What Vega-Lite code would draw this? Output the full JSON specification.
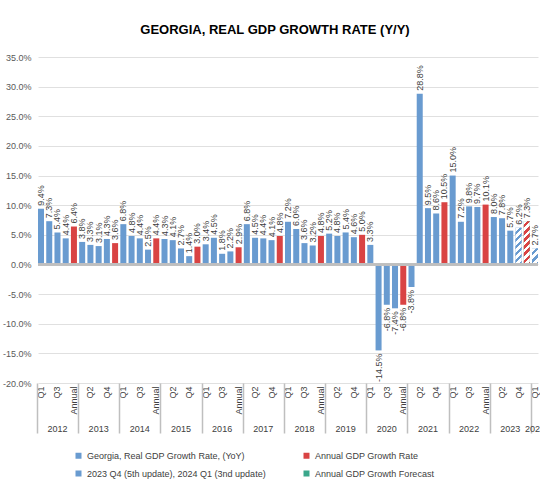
{
  "$schema": "https://vega.github.io/schema/vega-lite/v6.json",
  "width": 500,
  "height": 326,
  "autosize": "none",
  "padding": {"left": 38, "top": 57, "right": 2, "bottom": 102},
  "title": {"text": "GEORGIA, REAL GDP GROWTH RATE (Y/Y)", "fontSize": 13, "fontWeight": "bold", "font": "Liberation Sans", "color": "#000000", "anchor": "middle", "dx": -13, "offset": 16},
  "config": {
    "view": {"stroke": null},
    "font": "Liberation Sans",
    "locale": {"number": {"decimal": ".", "thousands": ",", "grouping": [3], "currency": ["$", ""], "minus": "-"}},
    "axisY": {"title": null, "domain": false, "ticks": false, "tickCount": 11, "labelOverlap": false, "labelFontSize": 9, "labelColor": "#595959", "labelPadding": 7, "grid": true, "gridColor": "#e0e0e0", "gridWidth": 1}
  },
  "data": {"values": [
    {"key": "2012 Q1", "growth": 0.094, "series": "Georgia, Real GDP Growth Rate, (YoY)"},
    {"key": "2012 Q2", "growth": 0.073, "series": "Georgia, Real GDP Growth Rate, (YoY)"},
    {"key": "2012 Q3", "growth": 0.054, "series": "Georgia, Real GDP Growth Rate, (YoY)"},
    {"key": "2012 Q4", "growth": 0.044, "series": "Georgia, Real GDP Growth Rate, (YoY)"},
    {"key": "2012 Annual", "growth": 0.064, "series": "Annual GDP Growth Rate"},
    {"key": "2013 Q1", "growth": 0.038, "series": "Georgia, Real GDP Growth Rate, (YoY)"},
    {"key": "2013 Q2", "growth": 0.033, "series": "Georgia, Real GDP Growth Rate, (YoY)"},
    {"key": "2013 Q3", "growth": 0.031, "series": "Georgia, Real GDP Growth Rate, (YoY)"},
    {"key": "2013 Q4", "growth": 0.043, "series": "Georgia, Real GDP Growth Rate, (YoY)"},
    {"key": "2013 Annual", "growth": 0.036, "series": "Annual GDP Growth Rate"},
    {"key": "2014 Q1", "growth": 0.068, "series": "Georgia, Real GDP Growth Rate, (YoY)"},
    {"key": "2014 Q2", "growth": 0.048, "series": "Georgia, Real GDP Growth Rate, (YoY)"},
    {"key": "2014 Q3", "growth": 0.044, "series": "Georgia, Real GDP Growth Rate, (YoY)"},
    {"key": "2014 Q4", "growth": 0.025, "series": "Georgia, Real GDP Growth Rate, (YoY)"},
    {"key": "2014 Annual", "growth": 0.044, "series": "Annual GDP Growth Rate"},
    {"key": "2015 Q1", "growth": 0.043, "series": "Georgia, Real GDP Growth Rate, (YoY)"},
    {"key": "2015 Q2", "growth": 0.041, "series": "Georgia, Real GDP Growth Rate, (YoY)"},
    {"key": "2015 Q3", "growth": 0.027, "series": "Georgia, Real GDP Growth Rate, (YoY)"},
    {"key": "2015 Q4", "growth": 0.014, "series": "Georgia, Real GDP Growth Rate, (YoY)"},
    {"key": "2015 Annual", "growth": 0.030, "series": "Annual GDP Growth Rate"},
    {"key": "2016 Q1", "growth": 0.034, "series": "Georgia, Real GDP Growth Rate, (YoY)"},
    {"key": "2016 Q2", "growth": 0.045, "series": "Georgia, Real GDP Growth Rate, (YoY)"},
    {"key": "2016 Q3", "growth": 0.018, "series": "Georgia, Real GDP Growth Rate, (YoY)"},
    {"key": "2016 Q4", "growth": 0.022, "series": "Georgia, Real GDP Growth Rate, (YoY)"},
    {"key": "2016 Annual", "growth": 0.029, "series": "Annual GDP Growth Rate"},
    {"key": "2017 Q1", "growth": 0.068, "series": "Georgia, Real GDP Growth Rate, (YoY)"},
    {"key": "2017 Q2", "growth": 0.045, "series": "Georgia, Real GDP Growth Rate, (YoY)"},
    {"key": "2017 Q3", "growth": 0.044, "series": "Georgia, Real GDP Growth Rate, (YoY)"},
    {"key": "2017 Q4", "growth": 0.041, "series": "Georgia, Real GDP Growth Rate, (YoY)"},
    {"key": "2017 Annual", "growth": 0.048, "series": "Annual GDP Growth Rate"},
    {"key": "2018 Q1", "growth": 0.072, "series": "Georgia, Real GDP Growth Rate, (YoY)"},
    {"key": "2018 Q2", "growth": 0.060, "series": "Georgia, Real GDP Growth Rate, (YoY)"},
    {"key": "2018 Q3", "growth": 0.036, "series": "Georgia, Real GDP Growth Rate, (YoY)"},
    {"key": "2018 Q4", "growth": 0.032, "series": "Georgia, Real GDP Growth Rate, (YoY)"},
    {"key": "2018 Annual", "growth": 0.048, "series": "Annual GDP Growth Rate"},
    {"key": "2019 Q1", "growth": 0.052, "series": "Georgia, Real GDP Growth Rate, (YoY)"},
    {"key": "2019 Q2", "growth": 0.048, "series": "Georgia, Real GDP Growth Rate, (YoY)"},
    {"key": "2019 Q3", "growth": 0.054, "series": "Georgia, Real GDP Growth Rate, (YoY)"},
    {"key": "2019 Q4", "growth": 0.046, "series": "Georgia, Real GDP Growth Rate, (YoY)"},
    {"key": "2019 Annual", "growth": 0.050, "series": "Annual GDP Growth Rate"},
    {"key": "2020 Q1", "growth": 0.033, "series": "Georgia, Real GDP Growth Rate, (YoY)"},
    {"key": "2020 Q2", "growth": -0.145, "series": "Georgia, Real GDP Growth Rate, (YoY)"},
    {"key": "2020 Q3", "growth": -0.068, "series": "Georgia, Real GDP Growth Rate, (YoY)"},
    {"key": "2020 Q4", "growth": -0.074, "series": "Georgia, Real GDP Growth Rate, (YoY)"},
    {"key": "2020 Annual", "growth": -0.068, "series": "Annual GDP Growth Rate"},
    {"key": "2021 Q1", "growth": -0.038, "series": "Georgia, Real GDP Growth Rate, (YoY)"},
    {"key": "2021 Q2", "growth": 0.288, "series": "Georgia, Real GDP Growth Rate, (YoY)"},
    {"key": "2021 Q3", "growth": 0.095, "series": "Georgia, Real GDP Growth Rate, (YoY)"},
    {"key": "2021 Q4", "growth": 0.086, "series": "Georgia, Real GDP Growth Rate, (YoY)"},
    {"key": "2021 Annual", "growth": 0.105, "series": "Annual GDP Growth Rate"},
    {"key": "2022 Q1", "growth": 0.150, "series": "Georgia, Real GDP Growth Rate, (YoY)"},
    {"key": "2022 Q2", "growth": 0.072, "series": "Georgia, Real GDP Growth Rate, (YoY)"},
    {"key": "2022 Q3", "growth": 0.098, "series": "Georgia, Real GDP Growth Rate, (YoY)"},
    {"key": "2022 Q4", "growth": 0.097, "series": "Georgia, Real GDP Growth Rate, (YoY)"},
    {"key": "2022 Annual", "growth": 0.101, "series": "Annual GDP Growth Rate"},
    {"key": "2023 Q1", "growth": 0.080, "series": "Georgia, Real GDP Growth Rate, (YoY)"},
    {"key": "2023 Q2", "growth": 0.078, "series": "Georgia, Real GDP Growth Rate, (YoY)"},
    {"key": "2023 Q3", "growth": 0.057, "series": "Georgia, Real GDP Growth Rate, (YoY)"},
    {"key": "2023 Q4", "growth": 0.062, "series": "2023 Q4 (5th update), 2024 Q1 (3nd update)"},
    {"key": "2023 Annual", "growth": 0.073, "series": "Annual GDP Growth Forecast"},
    {"key": "2024 Q1", "growth": 0.027, "series": "2023 Q4 (5th update), 2024 Q1 (3nd update)"}
  ]},
  "resolve": {"axis": {"x": "independent", "y": "shared"}},
  "layer": [
    {
      "mark": {"type": "bar"},
      "encoding": {
        "x": {"field": "key", "type": "nominal", "sort": null,
          "scale": {"type": "band", "paddingInner": 0.27, "paddingOuter": 0},
          "axis": {"orient": "bottom", "title": null, "domain": false, "ticks": false, "tickSize": 0, "labelAngle": -90, "labelPadding": 3, "labelOverlap": false,
            "labelFont": "Liberation Sans Narrow, Liberation Sans", "labelFontSize": 9, "labelColor": "#404040",
            "values": ["2012 Q1","2012 Q3","2012 Annual","2013 Q2","2013 Q4","2014 Q1","2014 Q3","2014 Annual","2015 Q2","2015 Q4","2016 Q1","2016 Q3","2016 Annual","2017 Q2","2017 Q4","2018 Q1","2018 Q3","2018 Annual","2019 Q2","2019 Q4","2020 Q1","2020 Q3","2020 Annual","2021 Q2","2021 Q4","2022 Q1","2022 Q3","2022 Annual","2023 Q2","2023 Q4","2024 Q1"],
            "labelExpr": "split(datum.value, ' ')[1]"}},
        "y": {"field": "growth", "type": "quantitative",
          "scale": {"domain": [-0.2, 0.35], "nice": false, "zero": true},
          "axis": {"title": null, "format": ".1%"}},
        "color": {"field": "series", "type": "nominal",
          "scale": {"domain": ["Georgia, Real GDP Growth Rate, (YoY)", "2023 Q4 (5th update), 2024 Q1 (3nd update)", "Annual GDP Growth Rate", "Annual GDP Growth Forecast"],
                    "range": ["#699bd0", "#699bd0", "#d94343", "#3aa78b"]},
          "legend": {"orient": "none", "legendX": 36, "legendY": 394, "columns": 2, "title": null, "symbolType": "square", "symbolSize": 36,
            "labelFontSize": 9, "labelFont": "Liberation Sans", "labelColor": "#404040", "columnPadding": 36, "rowPadding": 8, "labelOffset": 4, "labelLimit": 300, "symbolStrokeWidth": 0}}
      }
    },
    {
      "mark": {"type": "bar"},
      "encoding": {
        "x": {"field": "key", "type": "nominal", "sort": null,
          "axis": {"orient": "bottom", "title": null, "domain": false, "labels": false, "ticks": true, "tickSize": 50, "tickColor": "#bfbfbf", "tickWidth": 1.5, "bandPosition": 0, "tickOffset": -1,
            "values": ["2012 Q1","2013 Q1","2014 Q1","2015 Q1","2016 Q1","2017 Q1","2018 Q1","2019 Q1","2020 Q1","2021 Q1","2022 Q1","2023 Q1","2024 Q1"]}},
        "y": {"field": "growth", "type": "quantitative", "axis": {"title": null, "format": ".1%"}},
        "fill": {
          "condition": [
            {"test": "datum.key === '2023 Q4'", "value": {"gradient": "linear", "x1": 0, "y1": 0, "x2": 0.1852, "y2": 1.1334, "stops": [
              {"offset": 0, "color": "#ffffff"}, {"offset": 0.0917, "color": "#ffffff"}, {"offset": 0.0917, "color": "#699bd0"}, {"offset": 0.1667, "color": "#699bd0"},
              {"offset": 0.1667, "color": "#ffffff"}, {"offset": 0.2583, "color": "#ffffff"}, {"offset": 0.2583, "color": "#699bd0"}, {"offset": 0.3333, "color": "#699bd0"},
              {"offset": 0.3333, "color": "#ffffff"}, {"offset": 0.425, "color": "#ffffff"}, {"offset": 0.425, "color": "#699bd0"}, {"offset": 0.5, "color": "#699bd0"},
              {"offset": 0.5, "color": "#ffffff"}, {"offset": 0.5917, "color": "#ffffff"}, {"offset": 0.5917, "color": "#699bd0"}, {"offset": 0.6667, "color": "#699bd0"},
              {"offset": 0.6667, "color": "#ffffff"}, {"offset": 0.7583, "color": "#ffffff"}, {"offset": 0.7583, "color": "#699bd0"}, {"offset": 0.8333, "color": "#699bd0"},
              {"offset": 0.8333, "color": "#ffffff"}, {"offset": 0.925, "color": "#ffffff"}, {"offset": 0.925, "color": "#699bd0"}, {"offset": 1, "color": "#699bd0"}]}},
            {"test": "datum.key === '2023 Annual'", "value": {"gradient": "linear", "x1": 0, "y1": 0, "x2": 0.1552, "y2": 1.1174, "stops": [
              {"offset": 0, "color": "#ffffff"}, {"offset": 0.0786, "color": "#ffffff"}, {"offset": 0.0786, "color": "#d94343"}, {"offset": 0.1429, "color": "#d94343"},
              {"offset": 0.1429, "color": "#ffffff"}, {"offset": 0.2214, "color": "#ffffff"}, {"offset": 0.2214, "color": "#d94343"}, {"offset": 0.2857, "color": "#d94343"},
              {"offset": 0.2857, "color": "#ffffff"}, {"offset": 0.3643, "color": "#ffffff"}, {"offset": 0.3643, "color": "#d94343"}, {"offset": 0.4286, "color": "#d94343"},
              {"offset": 0.4286, "color": "#ffffff"}, {"offset": 0.5071, "color": "#ffffff"}, {"offset": 0.5071, "color": "#d94343"}, {"offset": 0.5714, "color": "#d94343"},
              {"offset": 0.5714, "color": "#ffffff"}, {"offset": 0.65, "color": "#ffffff"}, {"offset": 0.65, "color": "#d94343"}, {"offset": 0.7143, "color": "#d94343"},
              {"offset": 0.7143, "color": "#ffffff"}, {"offset": 0.7929, "color": "#ffffff"}, {"offset": 0.7929, "color": "#d94343"}, {"offset": 0.8571, "color": "#d94343"},
              {"offset": 0.8571, "color": "#ffffff"}, {"offset": 0.9357, "color": "#ffffff"}, {"offset": 0.9357, "color": "#d94343"}, {"offset": 1, "color": "#d94343"}]}},
            {"test": "datum.key === '2024 Q1'", "value": {"gradient": "linear", "x1": 0, "y1": 0, "x2": 0.4514, "y2": 1.2052, "stops": [
              {"offset": 0, "color": "#ffffff"}, {"offset": 0.1833, "color": "#ffffff"}, {"offset": 0.1833, "color": "#699bd0"}, {"offset": 0.3333, "color": "#699bd0"},
              {"offset": 0.3333, "color": "#ffffff"}, {"offset": 0.5167, "color": "#ffffff"}, {"offset": 0.5167, "color": "#699bd0"}, {"offset": 0.6667, "color": "#699bd0"},
              {"offset": 0.6667, "color": "#ffffff"}, {"offset": 0.85, "color": "#ffffff"}, {"offset": 0.85, "color": "#699bd0"}, {"offset": 1, "color": "#699bd0"}]}}
          ],
          "value": null
        }
      }
    },
    {
      "mark": {"type": "rule", "color": "#bfbfbf", "strokeWidth": 1.5},
      "encoding": {"y": {"datum": 0, "type": "quantitative"}}
    },
    {
      "mark": {"type": "text", "angle": 270, "baseline": "middle",
        "align": {"expr": "datum.growth < 0 ? 'right' : 'left'"},
        "dx": {"expr": "datum.growth < 0 ? -3 : 3"},
        "font": "Liberation Sans Narrow, Liberation Sans", "fontSize": 9, "color": "#404040"},
      "encoding": {
        "x": {"field": "key", "type": "nominal", "sort": null,
          "axis": {"orient": "bottom", "title": null, "domain": false, "ticks": false, "tickSize": 0, "labelAngle": 0, "labelPadding": 41, "labelOverlap": false,
            "labelFont": "Liberation Sans Narrow, Liberation Sans", "labelFontSize": 9, "labelColor": "#404040",
            "values": ["2012 Q3","2013 Q3","2014 Q3","2015 Q3","2016 Q3","2017 Q3","2018 Q3","2019 Q3","2020 Q3","2021 Q3","2022 Q3","2023 Q3","2024 Q1"],
            "labelExpr": "split(datum.value, ' ')[0]"}},
        "y": {"field": "growth", "type": "quantitative", "axis": {"title": null, "format": ".1%"}},
        "text": {"field": "growth", "type": "quantitative", "format": ".1%"}
      }
    }
  ]
}
